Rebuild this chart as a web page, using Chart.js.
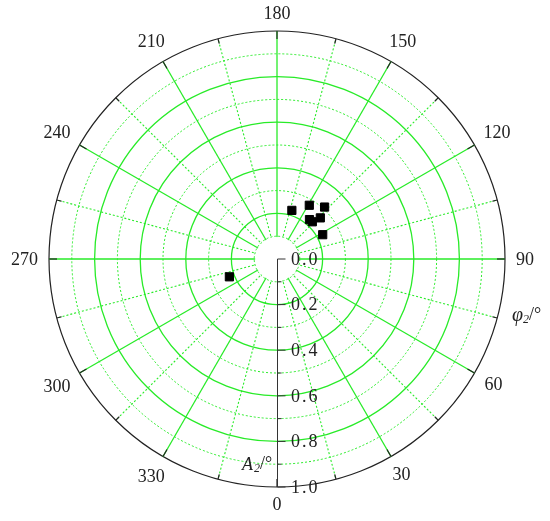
<!DOCTYPE html>
<html>
<head>
<meta charset="utf-8">
<script src="https://cdn.jsdelivr.net/npm/chart.js@4"></script>
<style>
  html, body { margin: 0; padding: 0; background: #fff; }
  #wrap { width: 550px; height: 521px; }
</style>
</head>
<body>
<div id="wrap"><canvas id="myChart"></canvas></div>
<script>
  // phase angle (deg) and amplitude of each sample
  const phi = [163, 149, 137.5, 133.5, 140.5, 136.5, 118, 290.5];
  const amp = [0.223, 0.275, 0.309, 0.262, 0.224, 0.225, 0.227, 0.223];

  const angleTicks = [0, 30, 60, 90, 120, 150, 180, 210, 240, 270, 300, 330];
  const radialTicks = [0, 0.2, 0.4, 0.6, 0.8, 1.0];

  const green = 'rgb(40, 235, 40)';
  const steps = 720; // half degree per label

  // label index -> angle, chart.js goes clockwise from startAngle
  const idxOf = a => Math.round(steps - a * 2) % steps;

  const labels = [];
  const values = [];
  for (let i = 0; i < steps; i++) {
    labels.push(String(((steps - i) % steps) / 2));
    values.push(null);
  }
  phi.forEach((a, k) => { values[idxOf(a)] = amp[k]; });

  const tenth = v => Math.round(v * 10);

  const polarDecor = {
    id: 'polarDecor',
    beforeDatasetsDraw(chart) {
      const ctx = chart.ctx;
      const s = chart.scales.r;
      const cx = s.xCenter, cy = s.yCenter;
      const R = s.getDistanceFromCenterForValue(1);
      ctx.save();

      // empty hole in the middle
      ctx.fillStyle = '#fff';
      ctx.beginPath();
      ctx.arc(cx, cy, s.getDistanceFromCenterForValue(0.1) - 0.9, 0, Math.PI * 2);
      ctx.fill();

      // ticks on the outer circle
      ctx.strokeStyle = '#222';
      ctx.lineWidth = 1.2;
      for (let a = 0; a < 360; a += 15) {
        const i = idxOf(a);
        const len = a % 30 === 0 ? 8 : 5;
        const p1 = s.getPointPosition(i, R);
        const p2 = s.getPointPosition(i, R - len);
        ctx.beginPath();
        ctx.moveTo(p1.x, p1.y);
        ctx.lineTo(p2.x, p2.y);
        ctx.stroke();
      }

      // radial axis along 0 deg
      ctx.lineWidth = 1;
      ctx.strokeStyle = '#333';
      ctx.beginPath();
      ctx.moveTo(cx + 0.5, cy);
      ctx.lineTo(cx + 0.5, cy + R);
      ctx.stroke();
      for (let k = 0; k <= 10; k++) {
        const y = cy + s.getDistanceFromCenterForValue(k / 10);
        const len = k % 2 === 0 ? 8 : 4;
        ctx.beginPath();
        ctx.moveTo(cx + 0.5, y);
        ctx.lineTo(cx + 0.5 + len, y);
        ctx.stroke();
      }

      // radial tick labels
      ctx.fillStyle = '#222';
      ctx.font = '18px "Liberation Serif"';
      ctx.letterSpacing = '2px';
      ctx.textAlign = 'left';
      ctx.textBaseline = 'middle';
      radialTicks.forEach(v => {
        const y = cy + s.getDistanceFromCenterForValue(v);
        ctx.fillText(v.toFixed(1), cx + 14, y + 1);
      });
      ctx.letterSpacing = '0px';

      // angle labels
      ctx.font = '18px "Liberation Serif"';
      ctx.textAlign = 'center';
      angleTicks.forEach(a => {
        const i = idxOf(a);
        const u = s.getPointPosition(i, 1);
        const ux = u.x - cx, uy = u.y - cy;
        const w = ctx.measureText(String(a)).width;
        const d = R + 11 + Math.abs(ux) * w / 2 + Math.abs(uy) * 6.5;
        const p = s.getPointPosition(i, d);
        ctx.fillText(String(a), p.x, p.y + 1);
      });

      // axis titles
      const yA = cy + s.getDistanceFromCenterForValue(0.9);
      ctx.textAlign = 'left';
      ctx.font = 'italic 18px "Liberation Serif"';
      ctx.fillText('A', cx - 35, yA + 1);
      ctx.font = 'italic 12px "Liberation Serif"';
      ctx.fillText('2', cx - 23, yA + 5);
      ctx.font = '18px "Liberation Serif"';
      ctx.fillText('/°', cx - 17, yA);

      const xp = cx + R + 7, yp = cy + 56;
      ctx.font = 'italic 20px "Liberation Serif"';
      ctx.fillText('φ', xp, yp + 1);
      ctx.font = 'italic 12px "Liberation Serif"';
      ctx.fillText('2', xp + 11, yp + 5);
      ctx.font = '18px "Liberation Serif"';
      ctx.fillText('/°', xp + 17, yp);

      ctx.restore();
    }
  };

  const data = {
    labels: labels,
    datasets: [{
      label: 'samples',
      data: values,
      showLine: false,
      pointStyle: 'rect',
      pointRadius: 5.8,
      pointBackgroundColor: '#000',
      pointBorderColor: '#000',
      pointBorderWidth: 1
    }]
  };

  const config = {
    type: 'radar',
    data: data,
    options: {
      responsive: true,
      maintainAspectRatio: false,
      animation: false,
      layout: { padding: { left: 49, right: 45, top: 31, bottom: 34 } },
      plugins: { legend: { display: false }, tooltip: { enabled: false } },
      scales: {
        r: {
          min: 0,
          max: 1,
          startAngle: 180,
          ticks: { display: false, stepSize: 0.1 },
          pointLabels: { display: false },
          grid: {
            circular: true,
            color: c => tenth(c.tick.value) === 10 ? '#222' : green,
            lineWidth: c => tenth(c.tick.value) === 10 ? 1.2 : (tenth(c.tick.value) % 2 === 0 ? 1.3 : 1),
            borderDash: c => tenth(c.tick.value) % 2 === 1 ? [2, 2] : []
          },
          border: {
            dash: c => tenth(c.tick.value) % 2 === 1 ? [2, 2] : []
          },
          angleLines: {
            display: true,
            color: c => (c.index % 30 === 0 && c.index !== 0) ? green : 'rgba(0,0,0,0)',
            lineWidth: c => (c.index % 30 === 0 && c.index !== 0) ? (c.index % 60 === 0 ? 1.3 : 1.1) : 0,
            borderDash: c => c.index % 60 === 0 ? [] : [2, 2]
          }
        }
      }
    },
    plugins: [polarDecor]
  };

  const myChart = new Chart(document.getElementById('myChart'), config);
</script>
</body>
</html>
